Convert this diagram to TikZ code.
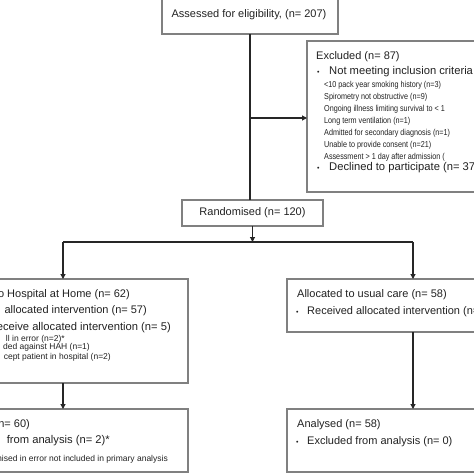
\documentclass[tikz,border=0pt]{standalone}
\usepackage{fontspec}
\setmainfont{Liberation Sans}
\usetikzlibrary{arrows.meta}
\definecolor{boxgray}{HTML}{808080}
\definecolor{linegray}{HTML}{262626}
\definecolor{txt}{HTML}{222222}
\newcommand{\nrw}[1]{\scalebox{0.84}[1]{#1}}
\tikzset{
  box/.style={draw=boxgray, line width=1.1pt, rectangle, inner sep=0pt, outer sep=0pt},
  conn/.style={draw=linegray, line width=1.1pt},
  arr/.style={conn, -{Triangle[length=5pt,width=5pt]}},
  tw/.style={anchor=west, inner sep=0pt, text=txt},
  te/.style={anchor=east, inner sep=0pt, text=txt},
  fa/.style={font=\fontsize{11}{13}\selectfont},
  fb/.style={font=\fontsize{11.2}{13}\selectfont},
  fs/.style={font=\fontsize{8.6}{9}\selectfont},
  fl/.style={font=\fontsize{8.5}{10}\selectfont},
  bul/.style={anchor=west, inner sep=0pt, text=txt, font=\fontsize{7}{8}\selectfont},
}
\begin{document}
\begin{tikzpicture}[x=1pt,y=-1pt]
\useasboundingbox (0,0) rectangle (474,474);
\clip (0,0) rectangle (474,474);
\fill[white] (0,0) rectangle (474,474);
% boxes
\node[box, minimum width=176pt, minimum height=54pt] (assess) at (250,7) {};
\node[box, minimum width=313pt, minimum height=151pt] (excl) at (463.5,116.5) {};
\node[box, minimum width=141pt, minimum height=26pt] (rand) at (252.5,213) {};
\node[box, minimum width=338pt, minimum height=104pt] (allocL) at (19,331) {};
\node[box, minimum width=333pt, minimum height=53pt] (allocR) at (453.5,305.5) {};
\node[box, minimum width=338pt, minimum height=63pt] (anaL) at (19,440.5) {};
\node[box, minimum width=333pt, minimum height=63pt] (anaR) at (453.5,440.5) {};
% connectors
\coordinate (jx) at (250,118);
\coordinate (hl) at (252.5,242);
\coordinate (bl) at (63,242);
\coordinate (br) at (413,242);
\draw[conn] (assess.south) -- (assess.south |- rand.north);
\draw[arr] (jx) -- (jx -| excl.west);
\draw[arr] (rand.south) -- (hl);
\draw[conn] (bl) -- (br);
\draw[arr] (bl) -- (bl |- allocL.north);
\draw[arr] (br) -- (br |- allocR.north);
\draw[arr] (bl |- allocL.south) -- (bl |- anaL.north);
\draw[arr] (br |- allocR.south) -- (br |- anaR.north);
% texts
\node[fa, text=txt, inner sep=0pt] (t0) at (249,15) {Assessed for eligibility, (n= 207)};
\node[tw, fa] (e0) at (316,57) {Excluded (n= 87)};
\node[bul] (eb1) at (317,72.5) {•};
\node[tw, fb] (e1) at (329,72) {Not meeting inclusion criteria};
\node[tw, fs] (e2) at (324,85) {\nrw{<10 pack year smoking history (n=3)}};
\node[tw, fs] (e3) at (324,97) {\nrw{Spirometry not obstructive (n=9)}};
\node[tw, fs] (e4) at (324,109) {\nrw{Ongoing illness limiting survival to < 1}};
\node[tw, fs] (e5) at (324,121) {\nrw{Long term ventilation (n=1)}};
\node[tw, fs] (e6) at (324,133) {\nrw{Admitted for secondary diagnosis (n=1)}};
\node[tw, fs] (e7) at (324,145) {\nrw{Unable to provide consent (n=21)}};
\node[tw, fs] (e8) at (324,157) {\nrw{Assessment > 1 day after admission (}};
\node[bul] (eb2) at (317,168.5) {•};
\node[tw, fb] (e9) at (329,168) {Declined to participate (n= 37)};
\node[fa, text=txt, inner sep=0pt] (r0) at (252.5,213) {Randomised (n= 120)};
% left allocation
\node[te, fa] (l1) at (130,295) {o Hospital at Home (n= 62)};
\node[te, fa] (l2) at (147,311) {allocated intervention (n= 57)};
\node[te, fb] (l3) at (171,328) {eceive allocated intervention (n= 5)};
\node[te, fl] (l4) at (65,339) {ll in error (n=2)*};
\node[te, fl] (l5) at (90,347.5) {ded against HAH (n=1)};
\node[te, fl] (l6) at (111,357) {cept patient in hospital (n=2)};
% right allocation
\node[tw, fa] (a1) at (297,295) {Allocated to usual care (n= 58)};
\node[bul] (ab1) at (296,312.5) {•};
\node[tw, fa] (a2) at (307,312) {Received allocated intervention (n= 58)};
% left analysis
\node[te, fa] (n1) at (30,425) {n= 60)};
\node[te, fb] (n2) at (110,441) {from analysis (n= 2)*};
\node[te, fl] (n3) at (168,459) {mised in error not included in primary analysis};
% right analysis
\node[tw, fa] (m1) at (297,425) {Analysed (n= 58)};
\node[bul] (mb1) at (296,442.5) {•};
\node[tw, fa] (m2) at (307,442) {Excluded from analysis (n= 0)};
\end{tikzpicture}
\end{document}
